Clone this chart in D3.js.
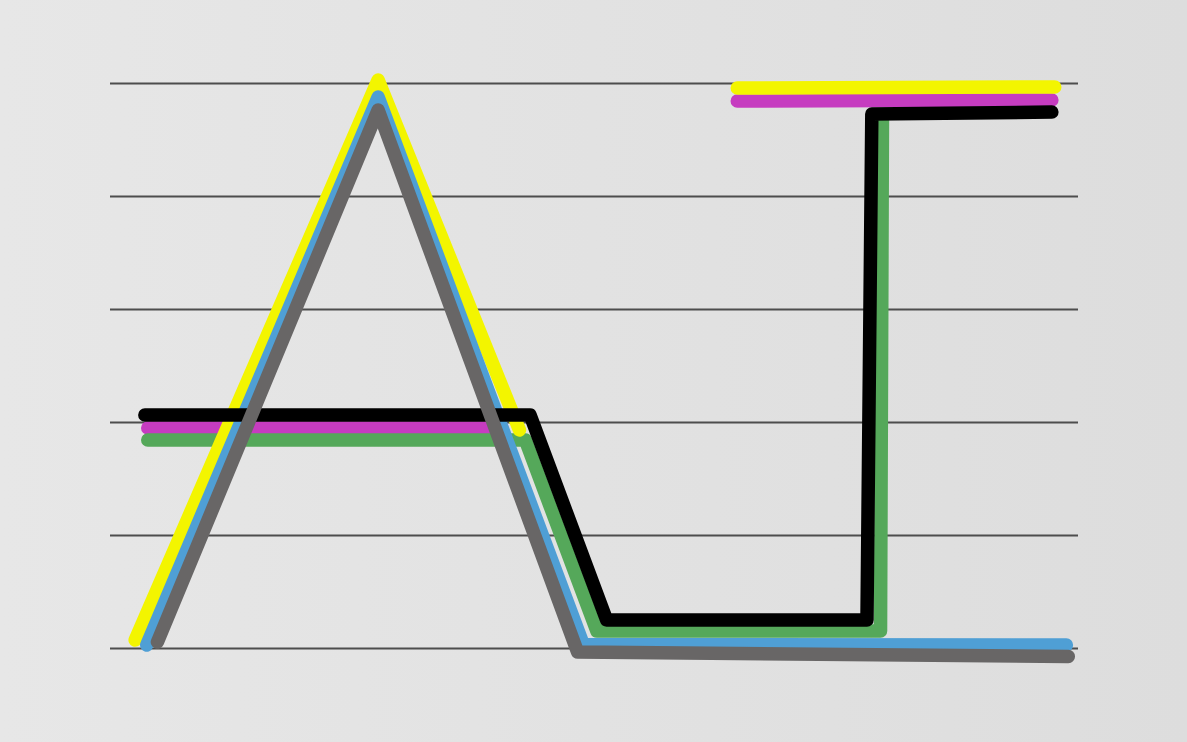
<!DOCTYPE html>
<html>
<head>
<meta charset="utf-8">
<script src="https://cdn.jsdelivr.net/npm/d3@7"></script>
<style>
  html, body { margin: 0; padding: 0; overflow: hidden; }
  svg { display: block; }
</style>
</head>
<body>
<svg></svg>
<script>
// grid levels
var gridLevels = [0, 1, 2, 3, 4, 5];

// series, each as [x, y] in chart units
var magentaLeft  = [[0.39, 1.947], [4.05, 1.947]];
var magentaTop   = [[6.48, 4.841], [9.73, 4.850]];
var greenLine    = [[0.39, 1.841], [4.29, 1.841], [5.03, 0.150], [7.96, 0.150], [7.98, 4.69]];
var yellowA      = [[0.26, 0.071], [2.77, 5.027], [4.23, 1.93]];
var yellowTop    = [[6.48, 4.956], [9.76, 4.965]];
var blueLine     = [[0.38, 0.027], [2.77, 4.876], [4.89, 0.030], [9.88, 0.027]];
var blackLine    = [[0.36, 2.062], [4.34, 2.062], [5.13, 0.248], [7.82, 0.248], [7.87, 4.726], [9.73, 4.743]];
var grayLine     = [[0.49, 0.053], [2.77, 4.761], [4.83, -0.035], [9.90, -0.075]];

var W = 1187, H = 742;
var svg = d3.select("svg").attr("width", W).attr("height", H);

// background
var grad = svg.append("defs").append("linearGradient")
    .attr("id", "bg").attr("x1", "0%").attr("y1", "0%").attr("x2", "100%").attr("y2", "0%");
grad.append("stop").attr("offset", "0%").attr("stop-color", "#e7e7e7");
grad.append("stop").attr("offset", "100%").attr("stop-color", "#dddddd");
svg.append("rect").attr("width", W).attr("height", H).attr("fill", "url(#bg)");

var x = d3.scaleLinear().domain([0, 10]).range([110, 1078]);
var y = d3.scaleLinear().domain([0, 5]).range([648, 83]);

// horizontal grid lines
var grid = svg.append("g")
    .attr("transform", "translate(110,0)")
    .call(d3.axisLeft(y).tickValues(gridLevels).tickSize(-(1078 - 110)).tickFormat(""));
grid.select(".domain").remove();
grid.selectAll(".tick line").attr("stroke", "#4d4d4d").attr("stroke-width", 2);

var line = d3.line().x(function(d) { return x(d[0]); }).y(function(d) { return y(d[1]); });

// drawing order: last one on top
var series = [
  { data: magentaLeft, color: "#c63cc0" },
  { data: magentaTop,  color: "#c63cc0" },
  { data: greenLine,   color: "#55a85a" },
  { data: yellowA,     color: "#f3f500" },
  { data: yellowTop,   color: "#f3f500" },
  { data: blueLine,    color: "#4f9fd5" },
  { data: blackLine,   color: "#000000" },
  { data: grayLine,    color: "#686666" }
];

svg.selectAll("path.series")
  .data(series)
  .enter().append("path")
    .attr("class", "series")
    .attr("d", function(d) { return line(d.data); })
    .style("fill", "none")
    .style("stroke", function(d) { return d.color; })
    .style("stroke-width", "13.5px")
    .style("stroke-linecap", "round")
    .style("stroke-linejoin", "round");
</script>
</body>
</html>
